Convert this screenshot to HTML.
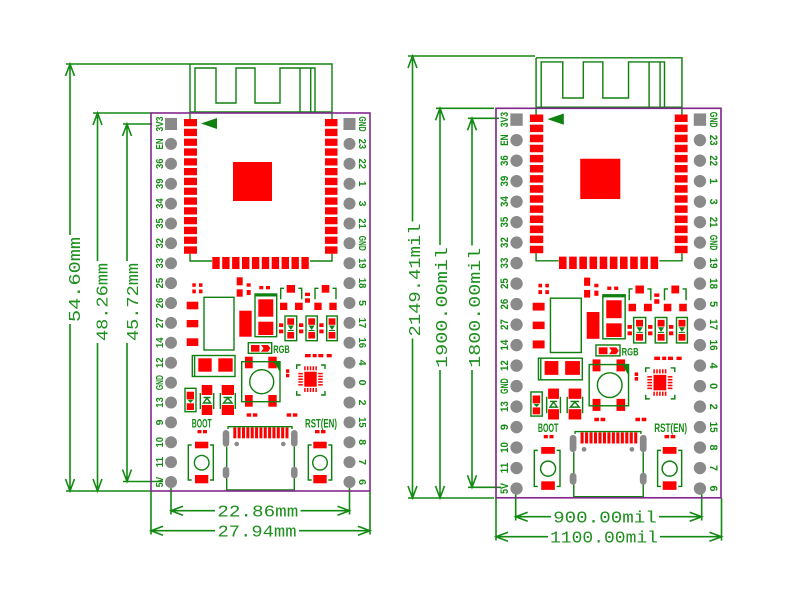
<!DOCTYPE html>
<html><head><meta charset="utf-8"><style>
html,body{margin:0;padding:0;background:#fff;}
svg{display:block;}
.dim{fill:none;stroke:#138a13;stroke-width:1.6;}
.dt{font-family:"Liberation Mono",monospace;font-size:17px;fill:#1f8f1f;}
.pl{font-family:"Liberation Sans",sans-serif;font-weight:bold;font-size:10.5px;fill:#148a14;text-anchor:middle;}
.lb{font-family:"Liberation Sans",sans-serif;font-weight:bold;fill:#148a14;}
.r{fill:#ff0000;}
.g{fill:none;stroke:#108010;stroke-width:1.4;}
.gf{fill:#108010;}
.gr{fill:#8a8a8a;}
</style></head><body>
<svg width="800" height="600" viewBox="0 0 800 600" xmlns="http://www.w3.org/2000/svg">
<rect width="800" height="600" fill="#fff"/>

<!-- LEFT DIMENSIONS -->
<path class="dim" d="M70,64 V235 M70,324 V491 M65.5,76 L70,64 L74.5,76 M65.5,479 L70,491 L74.5,479
M97.5,113 V261 M97.5,343 V491 M93,125 L97.5,113 L102,125 M93,479 L97.5,491 L102,479
M127,124 V261 M127,343 V481.5 M122.5,136 L127,124 L131.5,136 M122.5,469.5 L127,481.5 L131.5,469.5
M66,64 H190 M66,491 H151 M93,113 H151 M123,124 H152 M123,481.5 H163
M171,510.7 H215 M300.5,510.7 H349.5 M183,506.2 L171,510.7 L183,515.2 M337.5,506.2 L349.5,510.7 L337.5,515.2
M151,530.7 H215 M299,530.7 H370 M163,526.2 L151,530.7 L163,535.2 M358,526.2 L370,530.7 L358,535.2
M171,488 V514.5 M349.5,488 V514.5 M151,491 V534.5 M370,491 V534.5"/>
<text class="dt" x="257.8" y="516.7" text-anchor="middle" textLength="81" lengthAdjust="spacingAndGlyphs">22.86mm</text>
<text class="dt" x="257" y="536.7" text-anchor="middle" textLength="79" lengthAdjust="spacingAndGlyphs">27.94mm</text>
<text class="dt" transform="translate(80,279.5) rotate(-90)" text-anchor="middle" textLength="85" lengthAdjust="spacingAndGlyphs">54.60mm</text>
<text class="dt" transform="translate(107.5,302) rotate(-90)" text-anchor="middle" textLength="78" lengthAdjust="spacingAndGlyphs">48.26mm</text>
<text class="dt" transform="translate(138,302) rotate(-90)" text-anchor="middle" textLength="78" lengthAdjust="spacingAndGlyphs">45.72mm</text>

<!-- RIGHT DIMENSIONS -->
<path class="dim" d="M412.5,56 V221.5 M412.5,338.5 V498 M408,68 L412.5,56 L417,68 M408,486 L412.5,498 L417,486
M440,108.3 V245 M440,370 V498 M435.5,120.3 L440,108.3 L444.5,120.3 M435.5,486 L440,498 L444.5,486
M472,118.3 V245.5 M472,370 V487.3 M467.5,130.3 L472,118.3 L476.5,130.3 M467.5,475.3 L472,487.3 L476.5,475.3
M408,56 H535 M408,498 H494 M436,108.3 H494 M468,118.3 H499 M468,487.3 H501
M515.7,516.7 H551 M659,516.7 H701.7 M527.7,512.2 L515.7,516.7 L527.7,521.2 M689.7,512.2 L701.7,516.7 L689.7,521.2
M496,536.7 H548 M660,536.7 H721.5 M508,532.2 L496,536.7 L508,541.2 M709.5,532.2 L721.5,536.7 L709.5,541.2
M515.7,494 V520.5 M701.7,494 V520.5 M496,498 V540.5 M721.5,498 V540.5"/>
<text class="dt" x="605" y="522.7" text-anchor="middle" textLength="103.7" lengthAdjust="spacingAndGlyphs">900.00mil</text>
<text class="dt" x="604" y="542.5" text-anchor="middle" textLength="108" lengthAdjust="spacingAndGlyphs">1100.00mil</text>
<text class="dt" transform="translate(420,280) rotate(-90)" text-anchor="middle" textLength="113" lengthAdjust="spacingAndGlyphs">2149.41mil</text>
<text class="dt" transform="translate(447,307.5) rotate(-90)" text-anchor="middle" textLength="121" lengthAdjust="spacingAndGlyphs">1900.00mil</text>
<text class="dt" transform="translate(480,307.7) rotate(-90)" text-anchor="middle" textLength="120" lengthAdjust="spacingAndGlyphs">1800.00mil</text>

<!-- LEFT BOARD -->
<g transform="translate(151,113)">
<path class="g" d="M39,-49 H181 V6 M181,140.7 V148 H159 M39,-49 V6 M39,140.7 V148 H61 M39,-1 H181"/>
<path class="g" d="M44,-1 V-45 H65 V-10 H85 V-45 H104 V-10 H129 V-45 H164 V-1 M149,-45 V-1 M159.7,-45 V-1"/>
<path class="r" d="M33,6h13v7.3h-13z M33,15.8h13v7.3h-13z M33,25.6h13v7.3h-13z M33,35.4h13v7.3h-13z M33,45.2h13v7.3h-13z M33,55h13v7.3h-13z M33,64.8h13v7.3h-13z M33,74.6h13v7.3h-13z M33,84.4h13v7.3h-13z M33,94.2h13v7.3h-13z M33,104h13v7.3h-13z M33,113.8h13v7.3h-13z M33,123.6h13v7.3h-13z M33,133.4h13v7.3h-13z
M174,6h12.5v7.3h-12.5z M174,15.8h12.5v7.3h-12.5z M174,25.6h12.5v7.3h-12.5z M174,35.4h12.5v7.3h-12.5z M174,45.2h12.5v7.3h-12.5z M174,55h12.5v7.3h-12.5z M174,64.8h12.5v7.3h-12.5z M174,74.6h12.5v7.3h-12.5z M174,84.4h12.5v7.3h-12.5z M174,94.2h12.5v7.3h-12.5z M174,104h12.5v7.3h-12.5z M174,113.8h12.5v7.3h-12.5z M174,123.6h12.5v7.3h-12.5z M174,133.4h12.5v7.3h-12.5z
M61.3,144h7.4v12h-7.4z M71.2,144h7.4v12h-7.4z M81.1,144h7.4v12h-7.4z M91,144h7.4v12h-7.4z M100.9,144h7.4v12h-7.4z M110.8,144h7.4v12h-7.4z M120.7,144h7.4v12h-7.4z M130.6,144h7.4v12h-7.4z M140.5,144h7.4v12h-7.4z M150.4,144h7.4v12h-7.4z
M82,49h39v39h-39z"/>
<polygon class="gf" points="50,10.5 66,5 66,16"/>
<g class="r">
<rect x="41.3" y="170.3" width="3.5" height="3.5"/><rect x="48" y="170.3" width="3.5" height="3.5"/>
<rect x="41.3" y="176.5" width="3.5" height="3.8"/><rect x="48" y="176.5" width="3.5" height="3.8"/>
<rect x="85.7" y="164.3" width="6" height="8"/><rect x="85.7" y="176.3" width="6" height="7.4"/>
<rect x="95.7" y="170.3" width="4" height="3.4"/><rect x="95.7" y="177" width="4" height="5"/>
<rect x="35.7" y="188.7" width="11.6" height="7.6"/><rect x="35.7" y="207" width="11.6" height="7.3"/><rect x="35.7" y="225.3" width="11.6" height="7.7"/>
<rect x="88.3" y="197.7" width="12.4" height="26"/>
<rect x="107.3" y="186.3" width="15" height="17.4"/><rect x="107.3" y="208.7" width="15" height="13.3"/>
<rect x="108.3" y="173" width="4" height="3.3"/><rect x="115" y="173" width="4" height="3.3"/>
<rect x="135.7" y="172" width="8.3" height="7.7"/><rect x="129" y="189.7" width="7.3" height="7.3"/><rect x="144" y="189.7" width="7.7" height="7.3"/>
<rect x="154" y="179.7" width="5" height="3.3"/><rect x="154" y="185.3" width="5" height="4.4"/>
<rect x="170.7" y="172" width="7.6" height="7.7"/><rect x="163.3" y="189.7" width="7.4" height="7.3"/><rect x="178.3" y="189.7" width="7.4" height="7.3"/>
<rect x="136.3" y="205.3" width="6.8" height="6.5"/><rect x="136.3" y="219" width="6.8" height="6.5"/>
<rect x="157.3" y="205.3" width="6.8" height="6.5"/><rect x="157.3" y="219" width="6.8" height="6.5"/>
<rect x="177.6" y="205.3" width="6.8" height="6.5"/><rect x="177.6" y="219" width="6.8" height="6.5"/>
<rect x="128" y="210.3" width="4.3" height="3.7"/><rect x="128" y="216.5" width="4.3" height="3.8"/>
<rect x="148" y="210.3" width="4.3" height="3.7"/><rect x="148" y="216.5" width="4.3" height="3.8"/>
<rect x="168.3" y="210.3" width="4.3" height="3.7"/><rect x="168.3" y="216.5" width="4.3" height="3.8"/>
<rect x="100" y="232" width="8.5" height="6.7"/>
<polygon points="110,232 117,232 119.5,235.3 117,238.7 110,238.7 112.5,235.3"/>
<rect x="47.3" y="245.3" width="13.4" height="13.4"/><rect x="67.3" y="245.3" width="14.4" height="13.4"/>
<rect x="94" y="243.7" width="7.7" height="11.6"/><rect x="117.3" y="243.7" width="8.4" height="11.6"/>
<rect x="94" y="282" width="7.7" height="11.7"/><rect x="117.3" y="282" width="8.4" height="11.7"/>
<rect x="135" y="256.3" width="3.3" height="3.5"/><rect x="135" y="260.8" width="3.3" height="3.5"/>
<rect x="153.3" y="258.7" width="12.4" height="15"/>
<rect x="154" y="241" width="5.7" height="3.3"/><rect x="161.7" y="241" width="4" height="3.3"/><rect x="167.3" y="241" width="5" height="3.3"/><rect x="175.7" y="241" width="5" height="3.3"/>
<rect x="147.3" y="259.85" width="4.5" height="1.5"/><rect x="147.3" y="262.65" width="4.5" height="1.5"/><rect x="147.3" y="265.45" width="4.5" height="1.5"/><rect x="147.3" y="268.25" width="4.5" height="1.5"/><rect x="147.3" y="271.05" width="4.5" height="1.5"/>
<rect x="167.2" y="259.85" width="4.5" height="1.5"/><rect x="167.2" y="262.65" width="4.5" height="1.5"/><rect x="167.2" y="265.45" width="4.5" height="1.5"/><rect x="167.2" y="268.25" width="4.5" height="1.5"/><rect x="167.2" y="271.05" width="4.5" height="1.5"/>
<rect x="153.15" y="253.3" width="1.5" height="4"/><rect x="155.95" y="253.3" width="1.5" height="4"/><rect x="158.75" y="253.3" width="1.5" height="4"/><rect x="161.55" y="253.3" width="1.5" height="4"/><rect x="164.35" y="253.3" width="1.5" height="4"/>
<rect x="153.15" y="275" width="1.5" height="4"/><rect x="155.95" y="275" width="1.5" height="4"/><rect x="158.75" y="275" width="1.5" height="4"/><rect x="161.55" y="275" width="1.5" height="4"/><rect x="164.35" y="275" width="1.5" height="4"/>
<rect x="35.7" y="278.7" width="7.3" height="7.6"/><rect x="35.7" y="290.3" width="7.3" height="6.7"/>
<rect x="50.7" y="272" width="10.6" height="10"/><rect x="50.7" y="292" width="10.6" height="10"/>
<rect x="70.7" y="272" width="12.3" height="10"/><rect x="70.7" y="292" width="12.3" height="10"/>
<rect x="95.7" y="300.3" width="4.5" height="3.4"/><rect x="101.8" y="300.3" width="4.5" height="3.4"/>
<rect x="135.7" y="300.3" width="4.5" height="3.4"/><rect x="141.8" y="300.3" width="4.5" height="3.4"/>
<rect x="46.5" y="317" width="4" height="3.3"/><rect x="52" y="317" width="4" height="3.3"/>
<rect x="164" y="317" width="4.5" height="3.3"/><rect x="170" y="317" width="4.5" height="3.3"/>
<rect x="82.3" y="314.5" width="3" height="10.8"/><rect x="86.65" y="314.5" width="3" height="10.8"/><rect x="91" y="314.5" width="3" height="10.8"/><rect x="95.35" y="314.5" width="3" height="10.8"/><rect x="99.7" y="314.5" width="3" height="10.8"/><rect x="104.05" y="314.5" width="3" height="10.8"/><rect x="108.4" y="314.5" width="3" height="10.8"/><rect x="112.75" y="314.5" width="3" height="10.8"/><rect x="117.1" y="314.5" width="3" height="10.8"/><rect x="121.45" y="314.5" width="3" height="10.8"/><rect x="125.8" y="314.5" width="3" height="10.8"/><rect x="130.15" y="314.5" width="3" height="10.8"/><rect x="134.5" y="314.5" width="3" height="10.8"/>
<rect x="44" y="328.7" width="13.3" height="6.6"/><rect x="44" y="362" width="13.3" height="8.3"/>
<rect x="162.3" y="328.7" width="13.4" height="6.6"/><rect x="162.3" y="362" width="13.4" height="8.3"/>
</g>
<g class="g">
<rect x="53" y="184.3" width="30" height="52.7"/>
<rect x="104" y="181" width="21.7" height="42.7"/>
<path d="M104,182.3 H125.7" stroke-width="2.5"/>
<path d="M133,175.3 H129.7 V186.3 M147.3,175.3 H150.7 V186.3 M167.5,175.3 H164 V186.3 M181.5,175.3 H185 V186.3"/>
<rect x="134" y="203" width="11.7" height="24.7"/><rect x="155" y="203" width="11.3" height="24.7"/><rect x="175.7" y="203" width="10.6" height="24.7"/>
<rect x="97.3" y="229.7" width="23.4" height="10.6"/>
<rect x="41.3" y="242.5" width="42.7" height="21"/><path d="M43.6,242.5 V263.5"/>
<rect x="90.7" y="248.7" width="38.3" height="40"/>
<circle cx="110.7" cy="268.7" r="12"/>
<path d="M145.7,256 V252 H149.7 M170,252 H174 V256 M174,278 V282 H170 M149.7,282 H145.7 V278"/>
<rect x="34" y="275.3" width="11" height="23.4"/>
<path d="M49.3,280 V296 M62.7,280 V296 M69.3,280 V296 M84.3,280 V296"/>
<path d="M52.5,284.5 H59.5 M52.5,290 L56,285 L59.5,290 Z M72.5,284.5 H81 M72.5,290 L76.8,285 L81,290 Z"/>
<path d="M75.7,333.7 V377 H143.3 V333.7 M77,316 V313.7 H141 V316"/>
<path d="M40.7,332 H37.3 V367 H40.7 M59,332 H62.3 V367 H59 M160.7,332 H157.3 V367 H160.7 M177.3,332 H180.7 V367 H177.3"/>
<circle cx="50.7" cy="349.7" r="7.3"/><circle cx="169" cy="349.7" r="7.3"/>
</g>
<g class="gf">
<polygon points="123,249 129.5,249 129.5,260"/>
<polygon points="136.85,212.5 142.85,212.5 139.85,217"/><rect x="136.85" y="217" width="6" height="1"/>
<polygon points="157.65,212.5 163.65,212.5 160.65,217"/><rect x="157.65" y="217" width="6" height="1"/>
<polygon points="178,212.5 184,212.5 181,217"/><rect x="178" y="217" width="6" height="1"/>
<polygon points="36.5,286.8 42.5,286.8 39.5,290"/>
</g>
<g class="gr">
<rect x="71.7" y="317" width="6.6" height="16.7" rx="3.3"/><rect x="140" y="317" width="6.6" height="16.7" rx="3.3"/>
<rect x="71.7" y="353.7" width="6.6" height="11.6" rx="3.3"/><rect x="140" y="353.7" width="6.6" height="11.6" rx="3.3"/>
<circle cx="85.7" cy="331" r="2.3"/><circle cx="132.3" cy="331" r="2.3"/>
<rect x="14" y="5" width="12" height="12"/><rect x="192.5" y="5" width="12" height="12"/>
<circle cx="20" cy="30.9" r="6"/><circle cx="20" cy="50.8" r="6"/><circle cx="20" cy="70.7" r="6"/><circle cx="20" cy="90.6" r="6"/><circle cx="20" cy="110.5" r="6"/><circle cx="20" cy="130.3" r="6"/><circle cx="20" cy="150.2" r="6"/><circle cx="20" cy="170.1" r="6"/><circle cx="20" cy="190" r="6"/><circle cx="20" cy="209.9" r="6"/><circle cx="20" cy="229.8" r="6"/><circle cx="20" cy="249.7" r="6"/><circle cx="20" cy="269.6" r="6"/><circle cx="20" cy="289.5" r="6"/><circle cx="20" cy="309.4" r="6"/><circle cx="20" cy="329.2" r="6"/><circle cx="20" cy="349.1" r="6"/><circle cx="20" cy="369" r="6"/>
<circle cx="198.5" cy="30.9" r="6"/><circle cx="198.5" cy="50.8" r="6"/><circle cx="198.5" cy="70.7" r="6"/><circle cx="198.5" cy="90.6" r="6"/><circle cx="198.5" cy="110.5" r="6"/><circle cx="198.5" cy="130.3" r="6"/><circle cx="198.5" cy="150.2" r="6"/><circle cx="198.5" cy="170.1" r="6"/><circle cx="198.5" cy="190" r="6"/><circle cx="198.5" cy="209.9" r="6"/><circle cx="198.5" cy="229.8" r="6"/><circle cx="198.5" cy="249.7" r="6"/><circle cx="198.5" cy="269.6" r="6"/><circle cx="198.5" cy="289.5" r="6"/><circle cx="198.5" cy="309.4" r="6"/><circle cx="198.5" cy="329.2" r="6"/><circle cx="198.5" cy="349.1" r="6"/><circle cx="198.5" cy="369" r="6"/>
</g>
<rect x="0" y="0" width="219" height="378" fill="none" stroke="#82288c" stroke-width="1.6"/>
<text class="lb" x="122.3" y="240" font-size="11" textLength="16.5" lengthAdjust="spacingAndGlyphs">RGB</text>
<text class="lb" x="50.7" y="314.3" font-size="12" text-anchor="middle" textLength="20" lengthAdjust="spacingAndGlyphs">BOOT</text>
<text class="lb" x="170" y="314.3" font-size="12" text-anchor="middle" textLength="32" lengthAdjust="spacingAndGlyphs">RST(EN)</text>
<text class="pl" transform="translate(11.8,11) rotate(-90)" textLength="15" lengthAdjust="spacingAndGlyphs">3V3</text>
<text class="pl" transform="translate(11.8,30.9) rotate(-90)" textLength="11" lengthAdjust="spacingAndGlyphs">EN</text>
<text class="pl" transform="translate(11.8,50.8) rotate(-90)" textLength="10.5" lengthAdjust="spacingAndGlyphs">36</text>
<text class="pl" transform="translate(11.8,70.7) rotate(-90)" textLength="10.5" lengthAdjust="spacingAndGlyphs">39</text>
<text class="pl" transform="translate(11.8,90.6) rotate(-90)" textLength="10.5" lengthAdjust="spacingAndGlyphs">34</text>
<text class="pl" transform="translate(11.8,110.5) rotate(-90)" textLength="10.5" lengthAdjust="spacingAndGlyphs">35</text>
<text class="pl" transform="translate(11.8,130.3) rotate(-90)" textLength="10.5" lengthAdjust="spacingAndGlyphs">32</text>
<text class="pl" transform="translate(11.8,150.2) rotate(-90)" textLength="10.5" lengthAdjust="spacingAndGlyphs">33</text>
<text class="pl" transform="translate(11.8,170.1) rotate(-90)" textLength="10.5" lengthAdjust="spacingAndGlyphs">25</text>
<text class="pl" transform="translate(11.8,190) rotate(-90)" textLength="10.5" lengthAdjust="spacingAndGlyphs">26</text>
<text class="pl" transform="translate(11.8,209.9) rotate(-90)" textLength="10.5" lengthAdjust="spacingAndGlyphs">27</text>
<text class="pl" transform="translate(11.8,229.8) rotate(-90)" textLength="10.5" lengthAdjust="spacingAndGlyphs">14</text>
<text class="pl" transform="translate(11.8,249.7) rotate(-90)" textLength="10.5" lengthAdjust="spacingAndGlyphs">12</text>
<text class="pl" transform="translate(11.8,269.6) rotate(-90)" textLength="15" lengthAdjust="spacingAndGlyphs">GND</text>
<text class="pl" transform="translate(11.8,289.5) rotate(-90)" textLength="10.5" lengthAdjust="spacingAndGlyphs">13</text>
<text class="pl" transform="translate(11.8,309.4) rotate(-90)">9</text>
<text class="pl" transform="translate(11.8,329.2) rotate(-90)" textLength="10.5" lengthAdjust="spacingAndGlyphs">10</text>
<text class="pl" transform="translate(11.8,349.1) rotate(-90)" textLength="10.5" lengthAdjust="spacingAndGlyphs">11</text>
<text class="pl" transform="translate(11.8,369) rotate(-90)" textLength="10.5" lengthAdjust="spacingAndGlyphs">5V</text>
<text class="pl" transform="translate(208.2,11) rotate(90)" textLength="15" lengthAdjust="spacingAndGlyphs">GND</text>
<text class="pl" transform="translate(208.2,30.9) rotate(90)" textLength="10.5" lengthAdjust="spacingAndGlyphs">23</text>
<text class="pl" transform="translate(208.2,50.8) rotate(90)" textLength="10.5" lengthAdjust="spacingAndGlyphs">22</text>
<text class="pl" transform="translate(208.2,70.7) rotate(90)">1</text>
<text class="pl" transform="translate(208.2,90.6) rotate(90)">3</text>
<text class="pl" transform="translate(208.2,110.5) rotate(90)" textLength="10.5" lengthAdjust="spacingAndGlyphs">21</text>
<text class="pl" transform="translate(208.2,130.3) rotate(90)" textLength="15" lengthAdjust="spacingAndGlyphs">GND</text>
<text class="pl" transform="translate(208.2,150.2) rotate(90)" textLength="10.5" lengthAdjust="spacingAndGlyphs">19</text>
<text class="pl" transform="translate(208.2,170.1) rotate(90)" textLength="10.5" lengthAdjust="spacingAndGlyphs">18</text>
<text class="pl" transform="translate(208.2,190) rotate(90)">5</text>
<text class="pl" transform="translate(208.2,209.9) rotate(90)" textLength="10.5" lengthAdjust="spacingAndGlyphs">17</text>
<text class="pl" transform="translate(208.2,229.8) rotate(90)" textLength="10.5" lengthAdjust="spacingAndGlyphs">16</text>
<text class="pl" transform="translate(208.2,249.7) rotate(90)">4</text>
<text class="pl" transform="translate(208.2,269.6) rotate(90)">0</text>
<text class="pl" transform="translate(208.2,289.5) rotate(90)">2</text>
<text class="pl" transform="translate(208.2,309.4) rotate(90)" textLength="10.5" lengthAdjust="spacingAndGlyphs">15</text>
<text class="pl" transform="translate(208.2,329.2) rotate(90)">8</text>
<text class="pl" transform="translate(208.2,349.1) rotate(90)">7</text>
<text class="pl" transform="translate(208.2,369) rotate(90)">6</text>
</g>

<!-- RIGHT BOARD -->
<g transform="translate(496,108.3) scale(1.0274,1.0304)">
<path class="g" d="M39,-49 H181 V6 M181,140.7 V148 H159 M39,-49 V6 M39,140.7 V148 H61 M39,-1 H181"/>
<path class="g" d="M44,-1 V-45 H65 V-10 H85 V-45 H104 V-10 H129 V-45 H164 V-1 M149,-45 V-1 M159.7,-45 V-1"/>
<path class="r" d="M33,6h13v7.3h-13z M33,15.8h13v7.3h-13z M33,25.6h13v7.3h-13z M33,35.4h13v7.3h-13z M33,45.2h13v7.3h-13z M33,55h13v7.3h-13z M33,64.8h13v7.3h-13z M33,74.6h13v7.3h-13z M33,84.4h13v7.3h-13z M33,94.2h13v7.3h-13z M33,104h13v7.3h-13z M33,113.8h13v7.3h-13z M33,123.6h13v7.3h-13z M33,133.4h13v7.3h-13z
M174,6h12.5v7.3h-12.5z M174,15.8h12.5v7.3h-12.5z M174,25.6h12.5v7.3h-12.5z M174,35.4h12.5v7.3h-12.5z M174,45.2h12.5v7.3h-12.5z M174,55h12.5v7.3h-12.5z M174,64.8h12.5v7.3h-12.5z M174,74.6h12.5v7.3h-12.5z M174,84.4h12.5v7.3h-12.5z M174,94.2h12.5v7.3h-12.5z M174,104h12.5v7.3h-12.5z M174,113.8h12.5v7.3h-12.5z M174,123.6h12.5v7.3h-12.5z M174,133.4h12.5v7.3h-12.5z
M61.3,144h7.4v12h-7.4z M71.2,144h7.4v12h-7.4z M81.1,144h7.4v12h-7.4z M91,144h7.4v12h-7.4z M100.9,144h7.4v12h-7.4z M110.8,144h7.4v12h-7.4z M120.7,144h7.4v12h-7.4z M130.6,144h7.4v12h-7.4z M140.5,144h7.4v12h-7.4z M150.4,144h7.4v12h-7.4z
M82,49h39v39h-39z"/>
<polygon class="gf" points="50,10.5 66,5 66,16"/>
<g class="r">
<rect x="41.3" y="170.3" width="3.5" height="3.5"/><rect x="48" y="170.3" width="3.5" height="3.5"/>
<rect x="41.3" y="176.5" width="3.5" height="3.8"/><rect x="48" y="176.5" width="3.5" height="3.8"/>
<rect x="85.7" y="164.3" width="6" height="8"/><rect x="85.7" y="176.3" width="6" height="7.4"/>
<rect x="95.7" y="170.3" width="4" height="3.4"/><rect x="95.7" y="177" width="4" height="5"/>
<rect x="35.7" y="188.7" width="11.6" height="7.6"/><rect x="35.7" y="207" width="11.6" height="7.3"/><rect x="35.7" y="225.3" width="11.6" height="7.7"/>
<rect x="88.3" y="197.7" width="12.4" height="26"/>
<rect x="107.3" y="186.3" width="15" height="17.4"/><rect x="107.3" y="208.7" width="15" height="13.3"/>
<rect x="108.3" y="173" width="4" height="3.3"/><rect x="115" y="173" width="4" height="3.3"/>
<rect x="135.7" y="172" width="8.3" height="7.7"/><rect x="129" y="189.7" width="7.3" height="7.3"/><rect x="144" y="189.7" width="7.7" height="7.3"/>
<rect x="154" y="179.7" width="5" height="3.3"/><rect x="154" y="185.3" width="5" height="4.4"/>
<rect x="170.7" y="172" width="7.6" height="7.7"/><rect x="163.3" y="189.7" width="7.4" height="7.3"/><rect x="178.3" y="189.7" width="7.4" height="7.3"/>
<rect x="136.3" y="205.3" width="6.8" height="6.5"/><rect x="136.3" y="219" width="6.8" height="6.5"/>
<rect x="157.3" y="205.3" width="6.8" height="6.5"/><rect x="157.3" y="219" width="6.8" height="6.5"/>
<rect x="177.6" y="205.3" width="6.8" height="6.5"/><rect x="177.6" y="219" width="6.8" height="6.5"/>
<rect x="128" y="210.3" width="4.3" height="3.7"/><rect x="128" y="216.5" width="4.3" height="3.8"/>
<rect x="148" y="210.3" width="4.3" height="3.7"/><rect x="148" y="216.5" width="4.3" height="3.8"/>
<rect x="168.3" y="210.3" width="4.3" height="3.7"/><rect x="168.3" y="216.5" width="4.3" height="3.8"/>
<rect x="100" y="232" width="8.5" height="6.7"/>
<polygon points="110,232 117,232 119.5,235.3 117,238.7 110,238.7 112.5,235.3"/>
<rect x="47.3" y="245.3" width="13.4" height="13.4"/><rect x="67.3" y="245.3" width="14.4" height="13.4"/>
<rect x="94" y="243.7" width="7.7" height="11.6"/><rect x="117.3" y="243.7" width="8.4" height="11.6"/>
<rect x="94" y="282" width="7.7" height="11.7"/><rect x="117.3" y="282" width="8.4" height="11.7"/>
<rect x="135" y="256.3" width="3.3" height="3.5"/><rect x="135" y="260.8" width="3.3" height="3.5"/>
<rect x="153.3" y="258.7" width="12.4" height="15"/>
<rect x="154" y="241" width="5.7" height="3.3"/><rect x="161.7" y="241" width="4" height="3.3"/><rect x="167.3" y="241" width="5" height="3.3"/><rect x="175.7" y="241" width="5" height="3.3"/>
<rect x="147.3" y="259.85" width="4.5" height="1.5"/><rect x="147.3" y="262.65" width="4.5" height="1.5"/><rect x="147.3" y="265.45" width="4.5" height="1.5"/><rect x="147.3" y="268.25" width="4.5" height="1.5"/><rect x="147.3" y="271.05" width="4.5" height="1.5"/>
<rect x="167.2" y="259.85" width="4.5" height="1.5"/><rect x="167.2" y="262.65" width="4.5" height="1.5"/><rect x="167.2" y="265.45" width="4.5" height="1.5"/><rect x="167.2" y="268.25" width="4.5" height="1.5"/><rect x="167.2" y="271.05" width="4.5" height="1.5"/>
<rect x="153.15" y="253.3" width="1.5" height="4"/><rect x="155.95" y="253.3" width="1.5" height="4"/><rect x="158.75" y="253.3" width="1.5" height="4"/><rect x="161.55" y="253.3" width="1.5" height="4"/><rect x="164.35" y="253.3" width="1.5" height="4"/>
<rect x="153.15" y="275" width="1.5" height="4"/><rect x="155.95" y="275" width="1.5" height="4"/><rect x="158.75" y="275" width="1.5" height="4"/><rect x="161.55" y="275" width="1.5" height="4"/><rect x="164.35" y="275" width="1.5" height="4"/>
<rect x="35.7" y="278.7" width="7.3" height="7.6"/><rect x="35.7" y="290.3" width="7.3" height="6.7"/>
<rect x="50.7" y="272" width="10.6" height="10"/><rect x="50.7" y="292" width="10.6" height="10"/>
<rect x="70.7" y="272" width="12.3" height="10"/><rect x="70.7" y="292" width="12.3" height="10"/>
<rect x="95.7" y="300.3" width="4.5" height="3.4"/><rect x="101.8" y="300.3" width="4.5" height="3.4"/>
<rect x="135.7" y="300.3" width="4.5" height="3.4"/><rect x="141.8" y="300.3" width="4.5" height="3.4"/>
<rect x="46.5" y="317" width="4" height="3.3"/><rect x="52" y="317" width="4" height="3.3"/>
<rect x="164" y="317" width="4.5" height="3.3"/><rect x="170" y="317" width="4.5" height="3.3"/>
<rect x="82.3" y="314.5" width="3" height="10.8"/><rect x="86.65" y="314.5" width="3" height="10.8"/><rect x="91" y="314.5" width="3" height="10.8"/><rect x="95.35" y="314.5" width="3" height="10.8"/><rect x="99.7" y="314.5" width="3" height="10.8"/><rect x="104.05" y="314.5" width="3" height="10.8"/><rect x="108.4" y="314.5" width="3" height="10.8"/><rect x="112.75" y="314.5" width="3" height="10.8"/><rect x="117.1" y="314.5" width="3" height="10.8"/><rect x="121.45" y="314.5" width="3" height="10.8"/><rect x="125.8" y="314.5" width="3" height="10.8"/><rect x="130.15" y="314.5" width="3" height="10.8"/><rect x="134.5" y="314.5" width="3" height="10.8"/>
<rect x="44" y="328.7" width="13.3" height="6.6"/><rect x="44" y="362" width="13.3" height="8.3"/>
<rect x="162.3" y="328.7" width="13.4" height="6.6"/><rect x="162.3" y="362" width="13.4" height="8.3"/>
</g>
<g class="g">
<rect x="53" y="184.3" width="30" height="52.7"/>
<rect x="104" y="181" width="21.7" height="42.7"/>
<path d="M104,182.3 H125.7" stroke-width="2.5"/>
<path d="M133,175.3 H129.7 V186.3 M147.3,175.3 H150.7 V186.3 M167.5,175.3 H164 V186.3 M181.5,175.3 H185 V186.3"/>
<rect x="134" y="203" width="11.7" height="24.7"/><rect x="155" y="203" width="11.3" height="24.7"/><rect x="175.7" y="203" width="10.6" height="24.7"/>
<rect x="97.3" y="229.7" width="23.4" height="10.6"/>
<rect x="41.3" y="242.5" width="42.7" height="21"/><path d="M43.6,242.5 V263.5"/>
<rect x="90.7" y="248.7" width="38.3" height="40"/>
<circle cx="110.7" cy="268.7" r="12"/>
<path d="M145.7,256 V252 H149.7 M170,252 H174 V256 M174,278 V282 H170 M149.7,282 H145.7 V278"/>
<rect x="34" y="275.3" width="11" height="23.4"/>
<path d="M49.3,280 V296 M62.7,280 V296 M69.3,280 V296 M84.3,280 V296"/>
<path d="M52.5,284.5 H59.5 M52.5,290 L56,285 L59.5,290 Z M72.5,284.5 H81 M72.5,290 L76.8,285 L81,290 Z"/>
<path d="M75.7,333.7 V377 H143.3 V333.7 M77,316 V313.7 H141 V316"/>
<path d="M40.7,332 H37.3 V367 H40.7 M59,332 H62.3 V367 H59 M160.7,332 H157.3 V367 H160.7 M177.3,332 H180.7 V367 H177.3"/>
<circle cx="50.7" cy="349.7" r="7.3"/><circle cx="169" cy="349.7" r="7.3"/>
</g>
<g class="gf">
<polygon points="123,249 129.5,249 129.5,260"/>
<polygon points="136.85,212.5 142.85,212.5 139.85,217"/><rect x="136.85" y="217" width="6" height="1"/>
<polygon points="157.65,212.5 163.65,212.5 160.65,217"/><rect x="157.65" y="217" width="6" height="1"/>
<polygon points="178,212.5 184,212.5 181,217"/><rect x="178" y="217" width="6" height="1"/>
<polygon points="36.5,286.8 42.5,286.8 39.5,290"/>
</g>
<g class="gr">
<rect x="71.7" y="317" width="6.6" height="16.7" rx="3.3"/><rect x="140" y="317" width="6.6" height="16.7" rx="3.3"/>
<rect x="71.7" y="353.7" width="6.6" height="11.6" rx="3.3"/><rect x="140" y="353.7" width="6.6" height="11.6" rx="3.3"/>
<circle cx="85.7" cy="331" r="2.3"/><circle cx="132.3" cy="331" r="2.3"/>
<rect x="14" y="5" width="12" height="12"/><rect x="192.5" y="5" width="12" height="12"/>
<circle cx="20" cy="30.9" r="6"/><circle cx="20" cy="50.8" r="6"/><circle cx="20" cy="70.7" r="6"/><circle cx="20" cy="90.6" r="6"/><circle cx="20" cy="110.5" r="6"/><circle cx="20" cy="130.3" r="6"/><circle cx="20" cy="150.2" r="6"/><circle cx="20" cy="170.1" r="6"/><circle cx="20" cy="190" r="6"/><circle cx="20" cy="209.9" r="6"/><circle cx="20" cy="229.8" r="6"/><circle cx="20" cy="249.7" r="6"/><circle cx="20" cy="269.6" r="6"/><circle cx="20" cy="289.5" r="6"/><circle cx="20" cy="309.4" r="6"/><circle cx="20" cy="329.2" r="6"/><circle cx="20" cy="349.1" r="6"/><circle cx="20" cy="369" r="6"/>
<circle cx="198.5" cy="30.9" r="6"/><circle cx="198.5" cy="50.8" r="6"/><circle cx="198.5" cy="70.7" r="6"/><circle cx="198.5" cy="90.6" r="6"/><circle cx="198.5" cy="110.5" r="6"/><circle cx="198.5" cy="130.3" r="6"/><circle cx="198.5" cy="150.2" r="6"/><circle cx="198.5" cy="170.1" r="6"/><circle cx="198.5" cy="190" r="6"/><circle cx="198.5" cy="209.9" r="6"/><circle cx="198.5" cy="229.8" r="6"/><circle cx="198.5" cy="249.7" r="6"/><circle cx="198.5" cy="269.6" r="6"/><circle cx="198.5" cy="289.5" r="6"/><circle cx="198.5" cy="309.4" r="6"/><circle cx="198.5" cy="329.2" r="6"/><circle cx="198.5" cy="349.1" r="6"/><circle cx="198.5" cy="369" r="6"/>
</g>
<rect x="0" y="0" width="219" height="378" fill="none" stroke="#82288c" stroke-width="1.6"/>
<text class="lb" x="122.3" y="240" font-size="11" textLength="16.5" lengthAdjust="spacingAndGlyphs">RGB</text>
<text class="lb" x="50.7" y="314.3" font-size="12" text-anchor="middle" textLength="20" lengthAdjust="spacingAndGlyphs">BOOT</text>
<text class="lb" x="170" y="314.3" font-size="12" text-anchor="middle" textLength="32" lengthAdjust="spacingAndGlyphs">RST(EN)</text>
<text class="pl" transform="translate(11.8,11) rotate(-90)" textLength="15" lengthAdjust="spacingAndGlyphs">3V3</text>
<text class="pl" transform="translate(11.8,30.9) rotate(-90)" textLength="11" lengthAdjust="spacingAndGlyphs">EN</text>
<text class="pl" transform="translate(11.8,50.8) rotate(-90)" textLength="10.5" lengthAdjust="spacingAndGlyphs">36</text>
<text class="pl" transform="translate(11.8,70.7) rotate(-90)" textLength="10.5" lengthAdjust="spacingAndGlyphs">39</text>
<text class="pl" transform="translate(11.8,90.6) rotate(-90)" textLength="10.5" lengthAdjust="spacingAndGlyphs">34</text>
<text class="pl" transform="translate(11.8,110.5) rotate(-90)" textLength="10.5" lengthAdjust="spacingAndGlyphs">35</text>
<text class="pl" transform="translate(11.8,130.3) rotate(-90)" textLength="10.5" lengthAdjust="spacingAndGlyphs">32</text>
<text class="pl" transform="translate(11.8,150.2) rotate(-90)" textLength="10.5" lengthAdjust="spacingAndGlyphs">33</text>
<text class="pl" transform="translate(11.8,170.1) rotate(-90)" textLength="10.5" lengthAdjust="spacingAndGlyphs">25</text>
<text class="pl" transform="translate(11.8,190) rotate(-90)" textLength="10.5" lengthAdjust="spacingAndGlyphs">26</text>
<text class="pl" transform="translate(11.8,209.9) rotate(-90)" textLength="10.5" lengthAdjust="spacingAndGlyphs">27</text>
<text class="pl" transform="translate(11.8,229.8) rotate(-90)" textLength="10.5" lengthAdjust="spacingAndGlyphs">14</text>
<text class="pl" transform="translate(11.8,249.7) rotate(-90)" textLength="10.5" lengthAdjust="spacingAndGlyphs">12</text>
<text class="pl" transform="translate(11.8,269.6) rotate(-90)" textLength="15" lengthAdjust="spacingAndGlyphs">GND</text>
<text class="pl" transform="translate(11.8,289.5) rotate(-90)" textLength="10.5" lengthAdjust="spacingAndGlyphs">13</text>
<text class="pl" transform="translate(11.8,309.4) rotate(-90)">9</text>
<text class="pl" transform="translate(11.8,329.2) rotate(-90)" textLength="10.5" lengthAdjust="spacingAndGlyphs">10</text>
<text class="pl" transform="translate(11.8,349.1) rotate(-90)" textLength="10.5" lengthAdjust="spacingAndGlyphs">11</text>
<text class="pl" transform="translate(11.8,369) rotate(-90)" textLength="10.5" lengthAdjust="spacingAndGlyphs">5V</text>
<text class="pl" transform="translate(208.2,11) rotate(90)" textLength="15" lengthAdjust="spacingAndGlyphs">GND</text>
<text class="pl" transform="translate(208.2,30.9) rotate(90)" textLength="10.5" lengthAdjust="spacingAndGlyphs">23</text>
<text class="pl" transform="translate(208.2,50.8) rotate(90)" textLength="10.5" lengthAdjust="spacingAndGlyphs">22</text>
<text class="pl" transform="translate(208.2,70.7) rotate(90)">1</text>
<text class="pl" transform="translate(208.2,90.6) rotate(90)">3</text>
<text class="pl" transform="translate(208.2,110.5) rotate(90)" textLength="10.5" lengthAdjust="spacingAndGlyphs">21</text>
<text class="pl" transform="translate(208.2,130.3) rotate(90)" textLength="15" lengthAdjust="spacingAndGlyphs">GND</text>
<text class="pl" transform="translate(208.2,150.2) rotate(90)" textLength="10.5" lengthAdjust="spacingAndGlyphs">19</text>
<text class="pl" transform="translate(208.2,170.1) rotate(90)" textLength="10.5" lengthAdjust="spacingAndGlyphs">18</text>
<text class="pl" transform="translate(208.2,190) rotate(90)">5</text>
<text class="pl" transform="translate(208.2,209.9) rotate(90)" textLength="10.5" lengthAdjust="spacingAndGlyphs">17</text>
<text class="pl" transform="translate(208.2,229.8) rotate(90)" textLength="10.5" lengthAdjust="spacingAndGlyphs">16</text>
<text class="pl" transform="translate(208.2,249.7) rotate(90)">4</text>
<text class="pl" transform="translate(208.2,269.6) rotate(90)">0</text>
<text class="pl" transform="translate(208.2,289.5) rotate(90)">2</text>
<text class="pl" transform="translate(208.2,309.4) rotate(90)" textLength="10.5" lengthAdjust="spacingAndGlyphs">15</text>
<text class="pl" transform="translate(208.2,329.2) rotate(90)">8</text>
<text class="pl" transform="translate(208.2,349.1) rotate(90)">7</text>
<text class="pl" transform="translate(208.2,369) rotate(90)">6</text>
</g>
</svg>
</body></html>
